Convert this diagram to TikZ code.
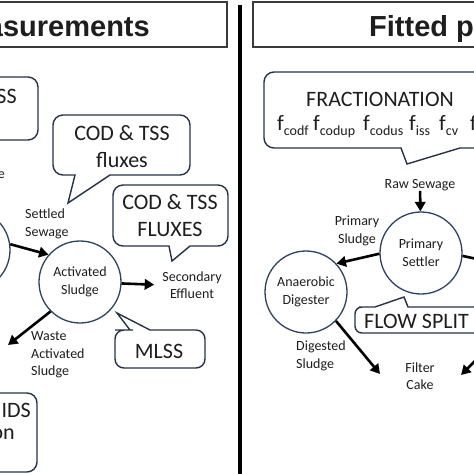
\documentclass[tikz,border=0pt]{standalone}
\usepackage{fontspec}
\setmainfont{Carlito}
\newfontfamily\titlefont{Liberation Sans}
\usetikzlibrary{arrows.meta}
\definecolor{bubcol}{HTML}{27324A}
\definecolor{circcol}{HTML}{2F4266}
\definecolor{titcol}{HTML}{3A3A3A}
\definecolor{txtcol}{HTML}{1E1E1E}
\newcommand{\fsub}[1]{\raisebox{-5pt}{\fontsize{14}{14}\selectfont #1}}
\begin{document}
\begin{tikzpicture}[x=1pt,y=-1pt,
  bubble/.style={draw=bubcol,line width=1.4pt,fill=white},
  proc/.style={circle,draw=circcol,line width=1.3pt,fill=white,minimum size=82pt,inner sep=0pt,
    font=\fontsize{14}{18}\selectfont,align=center,text=txtcol},
  lbl/.style={font=\fontsize{14}{17.5}\selectfont,inner sep=0pt,text=txtcol},
  big/.style={font=\fontsize{22}{27}\selectfont,inner sep=0pt,text=txtcol},
  arr/.style={line width=2.6pt,-{Triangle[length=9.5pt,width=10.5pt]}},
  titlebox/.style={draw=titcol,line width=2pt,fill=white},
  ttl/.style={font=\titlefont\bfseries\fontsize{29}{33}\selectfont,inner sep=0pt,text=txtcol}
]
\useasboundingbox (0,0) rectangle (474,474);
\clip (0,0) rectangle (474,474);
\fill[white] (0,0) rectangle (474,474);

% titles
\draw[titlebox] (-20,2) rectangle (227,47);
\node[ttl,anchor=base east] (t1) at (150,36) {Measurements};
\draw[titlebox] (253,2) rectangle (500,47);
\node[ttl,anchor=base west] (t2) at (369,36) {Fitted parameters};

% divider
\draw[line width=3.5pt] (240,5) -- (240,480);

% ---------------- left panel ----------------
\draw[bubble,rounded corners=10pt] (-100,77) rectangle (38,140);
\node[big,anchor=base] (b1) at (-31,103) {COD \& TSS};

\draw[bubble] (120,115) [rounded corners=10pt] -- (190,115) -- (190,175) -- (150,175)
  [sharp corners] -- (110,175) -- (68,203) -- (75,175) -- (65,175)
  [rounded corners=10pt] -- (53,175) -- (53,115) -- cycle;
\node[big,anchor=base] (b2a) at (122,140) {COD \& TSS};
\node[big,anchor=base] (b2b) at (122,167) {fluxes};

\draw[bubble] (150,185) [rounded corners=10pt] -- (228,185) -- (228,246) -- (205,246)
  [sharp corners] -- (190,246) -- (172,261) -- (169,246) -- (160,246)
  [rounded corners=10pt] -- (113,246) -- (113,185) -- cycle;
\node[big,anchor=base] (b3a) at (170,209) {COD \& TSS};
\node[big,anchor=base] (b3b) at (170,236) {FLUXES};

\draw[bubble] (180,330) [rounded corners=9pt] -- (205,330) -- (205,368) -- (115,368) -- (115,330) -- (124,330)
  [sharp corners] -- (130,330) -- (117,313) -- (150,330) -- (160,330)
  [rounded corners=9pt] -- cycle;
\node[big,anchor=base] (mlss) at (159,358) {MLSS};

\draw[bubble,rounded corners=10pt] (-100,393) rectangle (37,472);
\node[big,anchor=base east] (b5a) at (31,417) {IDS};
\node[big,anchor=base east] (b5b) at (15,439) {on};

\node[lbl,anchor=base east] (rs0) at (5,178) {Raw Sewage};
\node[proc] (ps0) at (-31,250) {};
\node[proc] (as) at (80,282) {Activated\\Sludge};
\node[lbl,align=left,anchor=west] (ss) at (25,224) {Settled\\Sewage};
\node[lbl,align=center] (se) at (192,285) {Secondary\\Effluent};
\node[lbl,align=left,anchor=west] (wa) at (31,355) {Waste\\Activated\\Sludge};
\coordinate (waend) at (8,345);

\draw[arr] (ps0.8) -- (as.139);
\draw[arr,shorten >=8pt] (as.-2) -- (se.west);
\draw[arr] (as.225) -- (waend);

% ---------------- right panel ----------------
\draw[bubble] (300,72) [rounded corners=10pt] -- (500,72) -- (500,148) -- (470,148)
  [sharp corners] -- (460,148) -- (407,164) -- (401,148) -- (390,148)
  [rounded corners=10pt] -- (264,148) -- (264,72) -- cycle;
\node[big,anchor=base] (frac) at (380,106) {FRACTIONATION};
\node[big,anchor=base west] (f1) at (277,130) {f\fsub{codf}};
\node[big,anchor=base west] (f2) at (313,130) {f\fsub{codup}};
\node[big,anchor=base west] (f3) at (363,130) {f\fsub{codus}};
\node[big,anchor=base west] (f4) at (409,130) {f\fsub{iss}};
\node[big,anchor=base west] (f5) at (439,130) {f\fsub{cv}};
\node[big,anchor=base west] (f6) at (470,130) {f};

\node[lbl] (rs) at (420,185) {Raw Sewage};
\node[proc] (ps) at (421,253) {Primary\\Settler};
\node[lbl,align=center] (psl) at (357,231) {Primary\\Sludge};
\node[proc] (ad) at (306,292) {Anaerobic\\Digester};

\draw[bubble] (355,320) [rounded corners=7pt] -- (355,307) -- (366,307)
  [sharp corners] -- (375,307) -- (404,297) -- (408,307) -- (420,307)
  [rounded corners=7pt] -- (500,307) -- (500,333) -- (355,333) -- cycle;
\node[big,anchor=base west] (fs) at (364,328) {FLOW SPLIT};

\node[lbl,align=left,anchor=west] (ds) at (296,356) {Digested\\Sludge};
\node[lbl,align=center] (fc) at (420,376) {Filter\\Cake};
\coordinate (fcA) at (380,374);
\coordinate (fcB0) at (490,346);
\coordinate (fcB) at (461,375);
\coordinate (psout) at (500,264);

\draw[arr] (rs) -- (ps);
\draw[arr] (ps.181) -- (ad.43);
\draw[arr] (ps.-4) -- (psout);
\draw[arr] (ad.-44) -- (fcA);
\draw[arr] (fcB0) -- (fcB);
\end{tikzpicture}
\end{document}
